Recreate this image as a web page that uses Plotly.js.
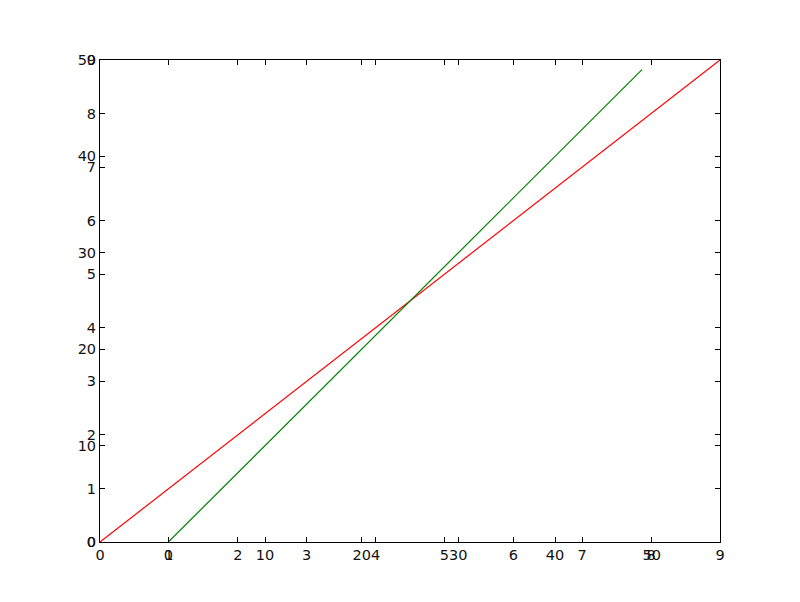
<!DOCTYPE html>
<html>
<head>
<meta charset="utf-8">
<script src="https://cdn.plot.ly/plotly-3.0.1.min.js"></script>
<style>html,body{margin:0;padding:0;background:#fff;}#chart{width:800px;height:602px;}</style>
</head>
<body>
<div id="chart"></div>
<script>
var redX = [0,1,2,3,4,5,6,7,8,9];
var redY = [0,1,2,3,4,5,6,7,8,9];
var greenX = [0,1,2,3,4,5,6,7,8,9,10,11,12,13,14,15,16,17,18,19,20,21,22,23,24,25,26,27,28,29,30,31,32,33,34,35,36,37,38,39,40,41,42,43,44,45,46,47,48,49];
var greenY = [0,1,2,3,4,5,6,7,8,9,10,11,12,13,14,15,16,17,18,19,20,21,22,23,24,25,26,27,28,29,30,31,32,33,34,35,36,37,38,39,40,41,42,43,44,45,46,47,48,49];

var font = {family: 'DejaVu Sans, sans-serif', size: 14.5, color: '#111'};
function ax(extra) {
  var base = {
    showgrid: false, zeroline: false, showline: true, linecolor: '#000', linewidth: 1,
    mirror: 'ticks', ticks: 'inside', ticklen: 5, tickwidth: 1, tickcolor: '#000',
    tickfont: font, fixedrange: true
  };
  for (var k in extra) base[k] = extra[k];
  return base;
}

var data = [
  {x: redX, y: redY, type: 'scatter', mode: 'lines', line: {color: '#ff0000', width: 1.2}, xaxis: 'x', yaxis: 'y', hoverinfo: 'none'},
  {x: greenX, y: greenY, type: 'scatter', mode: 'lines', line: {color: '#008000', width: 1.2}, xaxis: 'x2', yaxis: 'y2', hoverinfo: 'none'}
];

var layout = {
  width: 800, height: 602,
  margin: {l: 100, r: 80, t: 60, b: 60, pad: 0},
  paper_bgcolor: '#fff', plot_bgcolor: '#fff',
  showlegend: false,
  xaxis: ax({range: [0, 9], dtick: 1, tick0: 0}),
  yaxis: ax({range: [0, 9], dtick: 1, tick0: 0}),
  xaxis2: ax({range: [-7.07, 57.07], dtick: 10, tick0: 0, overlaying: 'x', side: 'bottom', anchor: 'y'}),
  yaxis2: ax({range: [0, 50], dtick: 10, tick0: 0, overlaying: 'y', side: 'left', anchor: 'x'})
};

Plotly.newPlot('chart', data, layout, {displayModeBar: false, staticPlot: true});
</script>
</body>
</html>
